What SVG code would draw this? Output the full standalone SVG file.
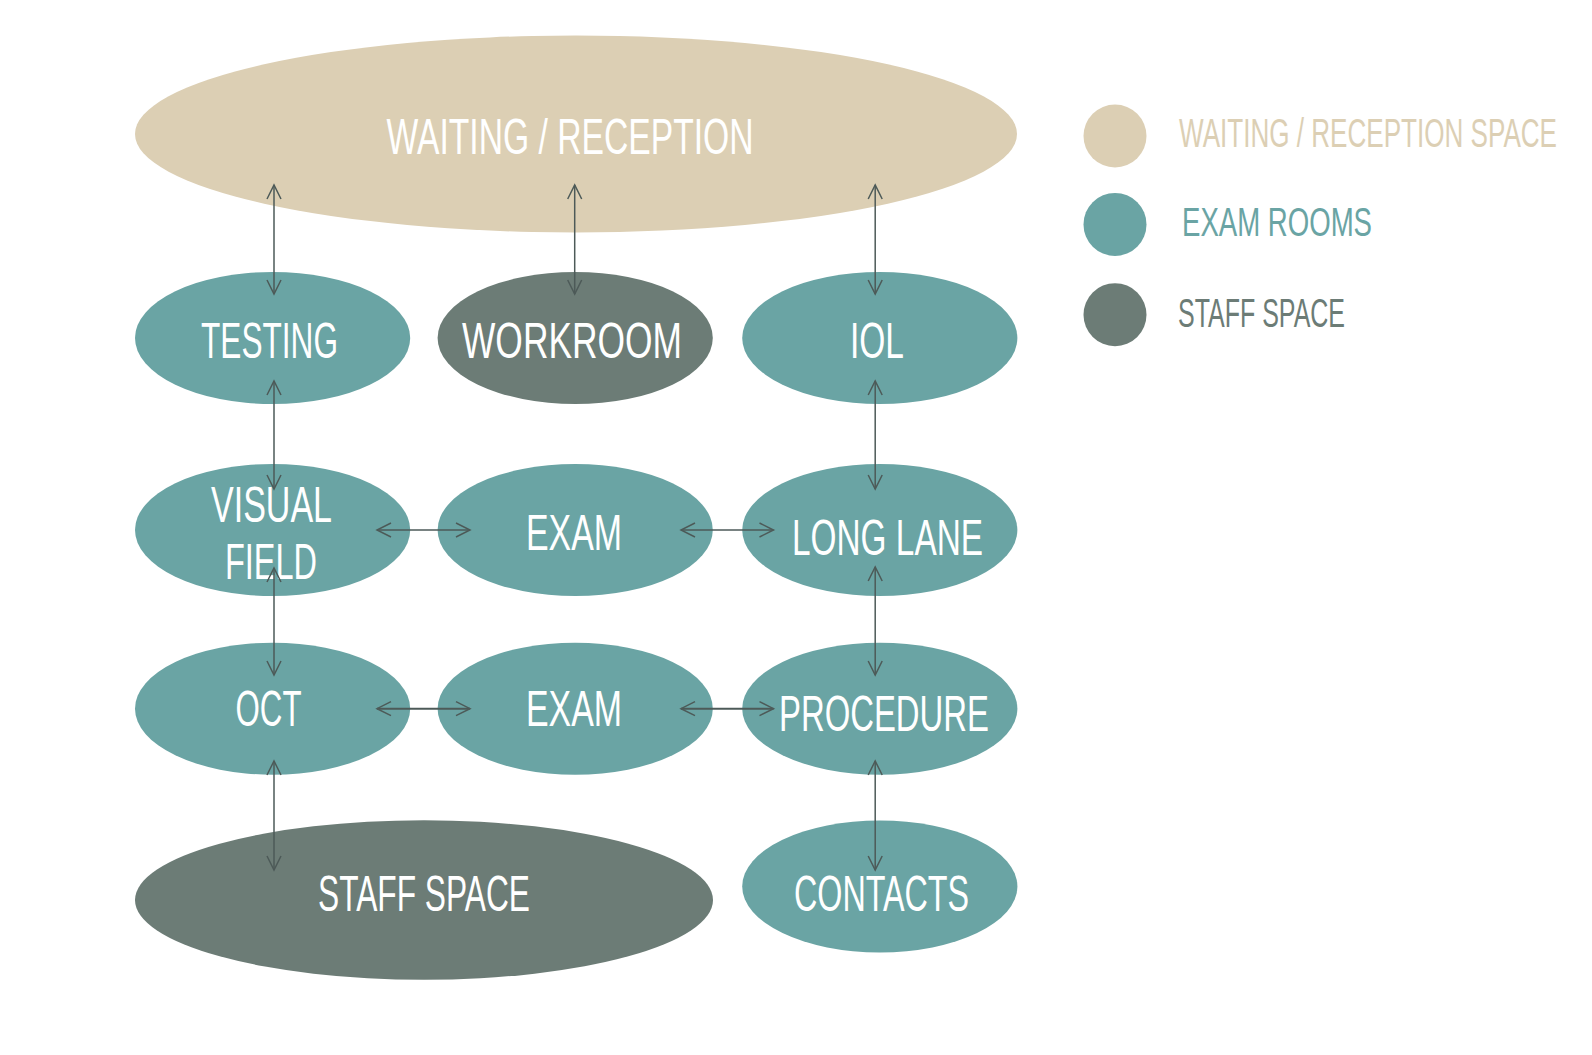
<svg xmlns="http://www.w3.org/2000/svg" width="1592" height="1055" viewBox="0 0 1592 1055">
<style>
.wait{fill:#dccfb4}
.exam{fill:#6aa4a4}
.staff{fill:#6c7c76}
.lbl{font-family:"Liberation Sans",Arial,sans-serif;font-size:50px;fill:#ffffff;text-anchor:middle}
.leg{font-family:"Liberation Sans",Arial,sans-serif;font-size:41px}
.con{stroke:#4d5a58;stroke-width:1.5;fill:none;marker-start:url(#chev);marker-end:url(#chev)}
.thick{stroke-width:2}
</style>
<defs>
<marker id="chev" viewBox="-16 -9 18 18" refX="0" refY="0" markerWidth="18" markerHeight="18" markerUnits="userSpaceOnUse" orient="auto-start-reverse">
<path d="M-14,-7 L0,0 L-14,7" fill="none" stroke="#4d5a58" stroke-width="1.5"/>
</marker>
</defs>
<rect width="1592" height="1055" fill="#ffffff"/>
<g id="waiting-reception">
<ellipse class="wait" cx="576" cy="134" rx="441" ry="98.5"/>
<text class="lbl" x="570" y="154" textLength="367" lengthAdjust="spacingAndGlyphs">WAITING / RECEPTION</text>
</g>
<g id="testing">
<ellipse class="exam" cx="272.6" cy="338" rx="137.6" ry="66"/>
<text class="lbl" x="269.5" y="358" textLength="137" lengthAdjust="spacingAndGlyphs">TESTING</text>
</g>
<g id="workroom">
<ellipse class="staff" cx="575.2" cy="338" rx="137.6" ry="66"/>
<text class="lbl" x="572" y="358" textLength="220" lengthAdjust="spacingAndGlyphs">WORKROOM</text>
</g>
<g id="iol">
<ellipse class="exam" cx="879.8" cy="338" rx="137.6" ry="66"/>
<text class="lbl" x="877" y="358" textLength="54" lengthAdjust="spacingAndGlyphs">IOL</text>
</g>
<g id="visual-field">
<ellipse class="exam" cx="272.6" cy="530" rx="137.6" ry="66"/>
<text class="lbl" x="271.5" y="522" textLength="121" lengthAdjust="spacingAndGlyphs">VISUAL</text>
<text class="lbl" x="271" y="579" textLength="92" lengthAdjust="spacingAndGlyphs">FIELD</text>
</g>
<g id="exam-1">
<ellipse class="exam" cx="575.2" cy="530" rx="137.6" ry="66"/>
<text class="lbl" x="574" y="550" textLength="96" lengthAdjust="spacingAndGlyphs">EXAM</text>
</g>
<g id="long-lane">
<ellipse class="exam" cx="879.8" cy="530" rx="137.6" ry="66"/>
<text class="lbl" x="887.5" y="555" textLength="191" lengthAdjust="spacingAndGlyphs">LONG LANE</text>
</g>
<g id="oct">
<ellipse class="exam" cx="272.6" cy="708.7" rx="137.6" ry="66"/>
<text class="lbl" x="268.5" y="726" textLength="66" lengthAdjust="spacingAndGlyphs">OCT</text>
</g>
<g id="exam-2">
<ellipse class="exam" cx="575.2" cy="708.7" rx="137.6" ry="66"/>
<text class="lbl" x="574" y="726" textLength="96" lengthAdjust="spacingAndGlyphs">EXAM</text>
</g>
<g id="procedure">
<ellipse class="exam" cx="879.8" cy="708.7" rx="137.6" ry="66"/>
<text class="lbl" x="884" y="731" textLength="210" lengthAdjust="spacingAndGlyphs">PROCEDURE</text>
</g>
<g id="staff-space">
<ellipse class="staff" cx="424" cy="900" rx="289" ry="79.7"/>
<text class="lbl" x="424" y="911" textLength="212" lengthAdjust="spacingAndGlyphs">STAFF SPACE</text>
</g>
<g id="contacts">
<ellipse class="exam" cx="879.8" cy="886.4" rx="137.6" ry="66"/>
<text class="lbl" x="881.5" y="911" textLength="175" lengthAdjust="spacingAndGlyphs">CONTACTS</text>
</g>
<g id="connectors">
<line class="con" x1="274" y1="185" x2="274" y2="294"/>
<line class="con" x1="574.7" y1="185" x2="574.7" y2="294"/>
<line class="con" x1="875.2" y1="185" x2="875.2" y2="294"/>
<line class="con" x1="274" y1="381" x2="274" y2="489"/>
<line class="con" x1="875.2" y1="381" x2="875.2" y2="489"/>
<line class="con" x1="274" y1="568" x2="274" y2="675"/>
<line class="con" x1="875.2" y1="567" x2="875.2" y2="675"/>
<line class="con" x1="274" y1="761" x2="274" y2="870"/>
<line class="con" x1="875.2" y1="761" x2="875.2" y2="870"/>
<line class="con" x1="377" y1="530" x2="470" y2="530"/>
<line class="con" x1="681" y1="530" x2="773.5" y2="530"/>
<line class="con thick" x1="377" y1="708.7" x2="470" y2="708.7"/>
<line class="con thick" x1="681" y1="708.7" x2="773.5" y2="708.7"/>
</g>
<g id="legend">
<circle class="wait" cx="1115" cy="136" r="31.5"/>
<text class="leg" x="1179" y="147" fill="#dccfb4" textLength="378" lengthAdjust="spacingAndGlyphs">WAITING / RECEPTION SPACE</text>
<circle class="exam" cx="1115" cy="224.4" r="31.5"/>
<text class="leg" x="1182" y="235.5" fill="#6aa4a4" textLength="190" lengthAdjust="spacingAndGlyphs">EXAM ROOMS</text>
<circle class="staff" cx="1115" cy="314.7" r="31.5"/>
<text class="leg" x="1178" y="327" fill="#6c7c76" textLength="167" lengthAdjust="spacingAndGlyphs">STAFF SPACE</text>
</g>
</svg>
